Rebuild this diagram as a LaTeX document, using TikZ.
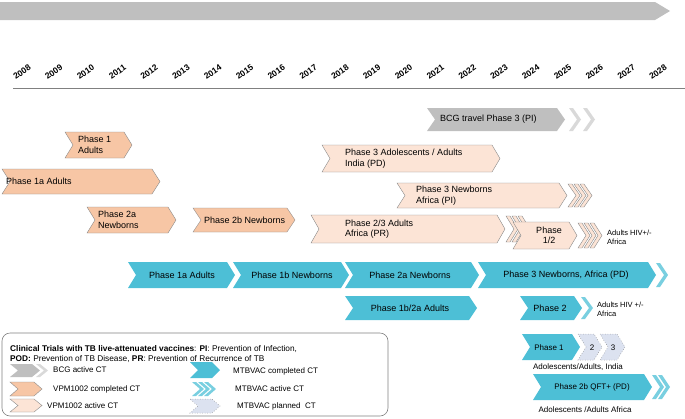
\documentclass[tikz,border=0pt]{standalone}
\usepackage{fontspec}
\setmainfont{Liberation Sans}
\definecolor{bcg}{HTML}{BFBFBF}
\definecolor{vcomp}{HTML}{F7C6A5}
\definecolor{vact}{HTML}{FCE4D6}
\definecolor{mblue}{HTML}{4DBFD6}
\definecolor{mplan}{HTML}{DCE2F0}
\definecolor{edge}{HTML}{8A8A8A}
\begin{document}
\begin{tikzpicture}[x=1pt,y=-1pt,font=\fontsize{9}{10.5}\selectfont,
  lab/.style={inner sep=0pt,anchor=west,align=left},
  yr/.style={font=\bfseries\fontsize{8.5}{9}\selectfont,rotate=35,inner sep=0pt}]
\useasboundingbox (0,0) rectangle (685,418);
\newcommand\chv[5]{\path[#5] (#1,#2) -- ({#3-8},#2) -- (#3,{(#2+#4)/2}) -- ({#3-8},#4) -- (#1,#4) -- ({#1+8},{(#2+#4)/2}) -- cycle;}
\newcommand\thin[5]{\path[#5] (#1,#2) -- ({#1+4},#2) -- ({#1+12},{(#2+#4)/2}) -- ({#1+4},#4) -- (#1,#4) -- ({#1+8},{(#2+#4)/2}) -- cycle;}
\tikzset{comp/.style={fill=vcomp,draw=edge,line width=0.4pt},
  act/.style={fill=vact,draw=edge,line width=0.4pt},
  gr/.style={fill=bcg},
  grl/.style={fill=bcg!60},
  bl/.style={fill=mblue},
  blo/.style={fill=mblue!75},
  pl/.style={fill=mplan,draw=gray,dotted,line width=0.5pt}}
\path[fill=bcg] (0,2) -- (655,2) -- (670,11) -- (655,20) -- (0,20) -- cycle;
\foreach \i in {0,...,20}{\pgfmathtruncatemacro\yy{2008+\i}
  \node[yr] (y\i) at ({22+31.8*\i},72) {\yy};}
\draw[gray,line width=0.8pt] (13,88) -- (685,88);
\chv{427}{108}{565}{131}{gr}
\node[lab] (bcg) at (440,119.5) {BCG travel Phase 3 (PI)};
\thin{569}{108}{131}{131}{grl}
\thin{583}{108}{131}{131}{grl}
\chv{65}{132}{132}{158}{comp}
\node[lab] (p1) at (78,145) {Phase 1\\Adults};
\chv{2}{169}{160}{194}{comp}
\node[lab] (p1a) at (6,181.5) {Phase 1a Adults};
\chv{87}{207}{176}{233}{comp}
\node[lab] (p2a) at (98,220) {Phase 2a\\Newborns};
\chv{193}{208}{295}{232}{comp}
\node[lab] (p2b) at (204,220) {Phase 2b Newborns};
\chv{322}{145}{500}{172}{act}
\node[lab] (p3i) at (345,158.5) {Phase 3 Adolescents / Adults\\India (PD)};
\chv{397}{183}{567}{208}{act}
\foreach \d in {0,6,12}{\thin{\the\numexpr568+\d\relax}{184}{207}{207}{act}}
\node[lab] (p3n) at (416,195.5) {Phase 3 Newborns\\Africa (PI)};
\chv{311}{215}{505}{243}{act}
\foreach \d in {0,6,12}{\thin{\the\numexpr506+\d\relax}{216}{242}{242}{act}}
\node[lab] (p23) at (345,229) {Phase 2/3 Adults\\Africa (PR)};
\chv{513}{222}{577}{249}{act}
\foreach \d in {0,6,12}{\thin{\the\numexpr578+\d\relax}{223}{248}{248}{act}}
\node[inner sep=0pt,align=center] (p12) at (549,235.5) {Phase\\1/2};
\node[lab,font=\fontsize{7.5}{9}\selectfont] (hiv1) at (607,237) {Adults HIV+/-\\Africa};
\chv{128}{262}{235}{288}{bl}
\node (m1a) at (182,275) {Phase 1a Adults};
\chv{233}{262}{349}{288}{bl}
\node (m1b) at (292,275) {Phase 1b Newborns};
\chv{345}{262}{479}{288}{bl}
\node (m2a) at (410,275) {Phase 2a Newborns};
\chv{478}{262}{656}{288}{bl}
\thin{656}{263}{287}{287}{blo}
\node (m3) at (566,275) {Phase 3 Newborns, Africa (PD)};
\chv{345}{296}{477}{320}{bl}
\node (m12) at (410,308) {Phase 1b/2a Adults};
\chv{520}{296}{582}{320}{bl}
\thin{581}{297}{319}{319}{blo}
\node (m2) at (550,308) {Phase 2};
\node[lab,font=\fontsize{7.5}{9}\selectfont] (hiv2) at (597,309) {Adults HIV +/-\\Africa};
\chv{522}{334}{580}{360}{bl}
\chv{578}{334}{602}{360}{pl}
\chv{600}{334}{625}{360}{pl}
\node[font=\fontsize{8}{9}\selectfont] (m1) at (549,348) {Phase 1};
\node[font=\fontsize{8}{9}\selectfont] (m2p) at (592,348) {2};
\node[font=\fontsize{8}{9}\selectfont] (m3p) at (613,348) {3};
\node[font=\fontsize{8}{9}\selectfont] (ind) at (578,367) {Adolescents/Adults, India};
\chv{533}{374}{652}{400}{bl}
\foreach \d in {0,6}{\thin{\the\numexpr652+\d\relax}{375}{399}{399}{blo}}
\node[font=\fontsize{8}{9}\selectfont] (qft) at (592,387) {Phase 2b QFT+ (PD)};
\node[font=\fontsize{8}{9}\selectfont] (afr) at (585,410) {Adolescents /Adults Africa};
\draw[gray,rounded corners=8pt,line width=0.6pt] (2,333) rectangle (388,416);
\node[lab,font=\fontsize{8.3}{10}\selectfont] (lt) at (10,354) {\textbf{Clinical Trials with TB live-attenuated vaccines}: \textbf{PI}: Prevention of Infection,\\ \textbf{POD:} Prevention of TB Disease, \textbf{PR}: Prevention of Recurrence of TB};
\chv{10}{364}{40}{377}{gr}
\thin{36}{364}{377}{377}{grl}
\node[lab,font=\fontsize{8}{9}\selectfont] (l1) at (53,370) {BCG active CT};
\chv{10}{382}{42}{396}{comp}
\node[lab,font=\fontsize{8}{9}\selectfont] (l2) at (53,389) {VPM1002 completed CT};
\chv{10}{399}{42}{412}{act}
\node[lab,font=\fontsize{8}{9}\selectfont] (l3) at (47,406) {VPM1002 active CT};
\chv{190}{362}{220}{378}{bl}
\node[lab,font=\fontsize{8}{9}\selectfont] (l4) at (233,371) {MTBVAC completed CT};
\foreach \d in {0,6,12}{\thin{\the\numexpr192+\d\relax}{382}{396}{396}{blo}}
\node[lab,font=\fontsize{8}{9}\selectfont] (l5) at (235,389) {MTBVAC active CT};
\chv{190}{399}{220}{413}{pl}
\node[lab,font=\fontsize{8}{9}\selectfont] (l6) at (237,406) {MTBVAC planned\ \ CT};
\end{tikzpicture}
\end{document}
